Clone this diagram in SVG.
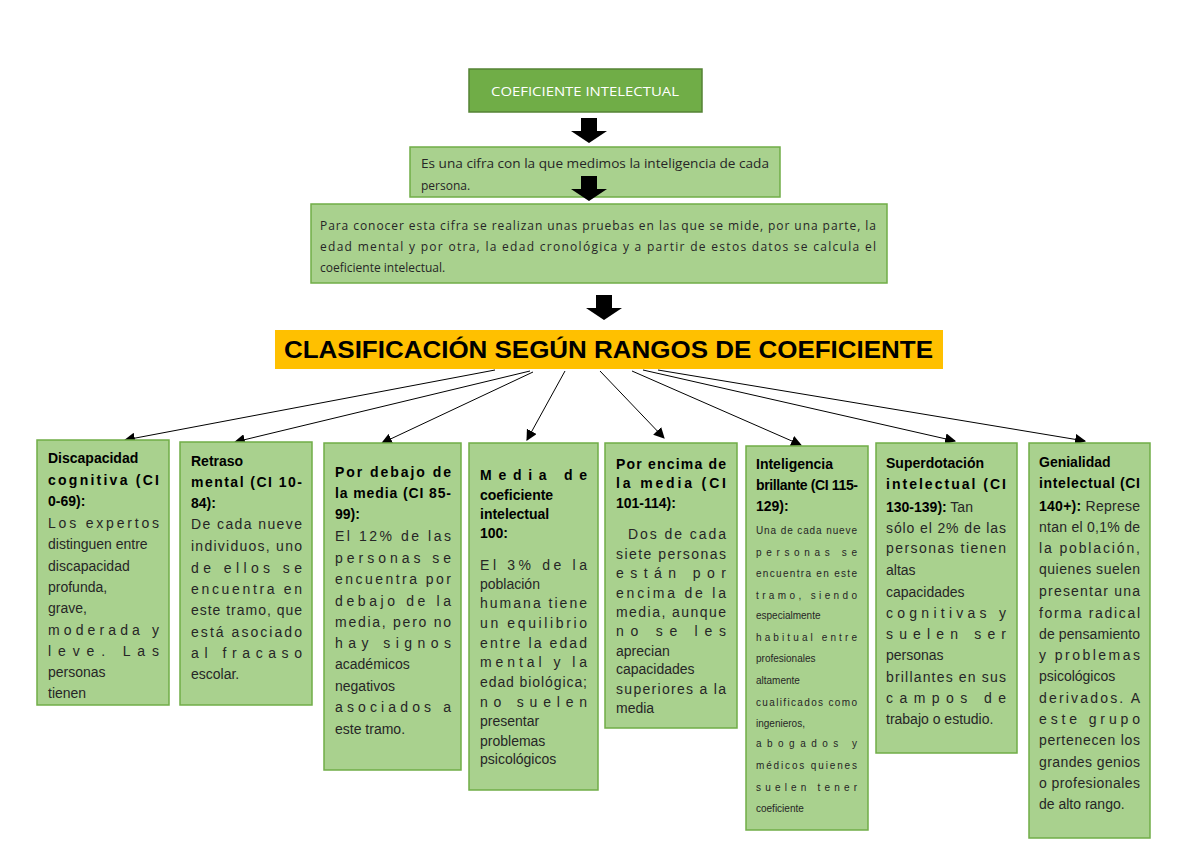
<svg xmlns="http://www.w3.org/2000/svg" width="1200" height="848" viewBox="0 0 1200 848">
<style>
.box{fill:#a9d18e;stroke:#70ad47;stroke-width:1.5}
.t{font-family:"Liberation Sans",Arial,sans-serif;font-size:14px;fill:#262626}
.b{font-weight:bold;fill:#000}
.s{font-size:10px}
.c{font-family:"Open Sans","Liberation Sans",sans-serif;font-size:12px;fill:#262626}
.ln{stroke:#000;stroke-width:1;fill:none;marker-end:url(#ah)}
.blk{fill:#000}
</style>
<defs>
<marker id="ah" viewBox="0 0 10 10" refX="9" refY="5" markerWidth="11" markerHeight="11" markerUnits="userSpaceOnUse" orient="auto"><path d="M0,0 L10,5 L0,10 z" fill="#000"/></marker>
</defs>
<rect width="1200" height="848" fill="#fff"/>

<g id="n-title">
<rect x="469" y="69" width="233" height="43" fill="#70ad47" stroke="#548235" stroke-width="1.5"/>
<text x="585" y="96" text-anchor="middle" font-family="'Open Sans','Liberation Sans',sans-serif" font-size="13" fill="#fff" textLength="188" lengthAdjust="spacingAndGlyphs">COEFICIENTE INTELECTUAL</text>
</g>
<g id="n-def">
<rect class="box" x="410" y="147" width="370" height="50"/>
<text class="c" x="421" y="168" textLength="348" lengthAdjust="spacingAndGlyphs">Es una cifra con la que medimos la inteligencia de cada</text>
<text class="c" x="421" y="190">persona.</text>
</g>
<g id="n-pruebas">
<rect class="box" x="311" y="204" width="576" height="79"/>
<text class="c" x="320" y="230" textLength="556" lengthAdjust="spacing">Para conocer esta cifra se realizan unas pruebas en las que se mide, por una parte, la</text>
<text class="c" x="320" y="251" textLength="556" lengthAdjust="spacing">edad mental y por otra, la edad cronológica y a partir de estos datos se calcula el</text>
<text class="c" x="320" y="272">coeficiente intelectual.</text>
</g>
<g id="n-banner">
<rect x="275" y="330" width="668" height="39" fill="#ffc000"/>
<text x="284" y="358" font-family="'Liberation Sans',Arial,sans-serif" font-weight="bold" font-size="24" fill="#000" textLength="649" lengthAdjust="spacingAndGlyphs">CLASIFICACIÓN SEGÚN RANGOS DE COEFICIENTE</text>
</g>

<g id="block-arrows">
<path class="blk" d="M581,118 H597 V131 H607 L589,143 L571,131 H581 Z"/>
<path class="blk" d="M581,176 H597 V189 H607 L589,201 L571,189 H581 Z"/>
<path class="blk" d="M596,295 H612 V308 H622 L604,320 L586,308 H596 Z"/>
</g>

<g id="connectors">
<line class="ln" x1="495" y1="370" x2="125" y2="440"/>
<line class="ln" x1="530" y1="371" x2="235" y2="442"/>
<line class="ln" x1="533" y1="372" x2="382" y2="443"/>
<line class="ln" x1="565" y1="371" x2="527" y2="440"/>
<line class="ln" x1="600" y1="371" x2="664" y2="438"/>
<line class="ln" x1="632" y1="371" x2="801" y2="445"/>
<line class="ln" x1="643" y1="370" x2="955" y2="441"/>
<line class="ln" x1="658" y1="370" x2="1085" y2="441"/>
</g>

<g id="n-discapacidad">
<rect class="box" x="37" y="440" width="132" height="265"/>
<text class="t b" x="48" y="463">Discapacidad</text>
<text class="t b" x="48" y="485" textLength="111" lengthAdjust="spacing">cognitiva (CI</text>
<text class="t b" x="48" y="506">0-69):</text>
<text class="t" x="48" y="528" textLength="111" lengthAdjust="spacing">Los expertos</text>
<text class="t" x="48" y="549">distinguen entre</text>
<text class="t" x="48" y="571">discapacidad</text>
<text class="t" x="48" y="592">profunda,</text>
<text class="t" x="48" y="613">grave,</text>
<text class="t" x="48" y="635" textLength="111" lengthAdjust="spacing">moderada y</text>
<text class="t" x="48" y="656" textLength="111" lengthAdjust="spacing">leve. Las</text>
<text class="t" x="48" y="677">personas</text>
<text class="t" x="48" y="698">tienen</text>
</g>
<g id="n-retraso">
<rect class="box" x="180" y="442" width="132" height="263"/>
<text class="t b" x="191" y="466">Retraso</text>
<text class="t b" x="191" y="487" textLength="111" lengthAdjust="spacing">mental (CI 10-</text>
<text class="t b" x="191" y="508">84):</text>
<text class="t" x="191" y="529" textLength="111" lengthAdjust="spacing">De cada nueve</text>
<text class="t" x="191" y="551" textLength="111" lengthAdjust="spacing">individuos, uno</text>
<text class="t" x="191" y="573" textLength="111" lengthAdjust="spacing">de ellos se</text>
<text class="t" x="191" y="594" textLength="111" lengthAdjust="spacing">encuentra en</text>
<text class="t" x="191" y="615" textLength="111" lengthAdjust="spacing">este tramo, que</text>
<text class="t" x="191" y="637" textLength="111" lengthAdjust="spacing">está asociado</text>
<text class="t" x="191" y="658" textLength="111" lengthAdjust="spacing">al fracaso</text>
<text class="t" x="191" y="679">escolar.</text>
</g>
<g id="n-debajo">
<rect class="box" x="324" y="443" width="137" height="327"/>
<text class="t b" x="335" y="477" textLength="116" lengthAdjust="spacing">Por debajo de</text>
<text class="t b" x="335" y="498" textLength="116" lengthAdjust="spacing">la media (CI 85-</text>
<text class="t b" x="335" y="519">99):</text>
<text class="t" x="335" y="541" textLength="116" lengthAdjust="spacing">El 12% de las</text>
<text class="t" x="335" y="563" textLength="116" lengthAdjust="spacing">personas se</text>
<text class="t" x="335" y="584" textLength="116" lengthAdjust="spacing">encuentra por</text>
<text class="t" x="335" y="606" textLength="116" lengthAdjust="spacing">debajo de la</text>
<text class="t" x="335" y="627" textLength="116" lengthAdjust="spacing">media, pero no</text>
<text class="t" x="335" y="648" textLength="116" lengthAdjust="spacing">hay signos</text>
<text class="t" x="335" y="669">académicos</text>
<text class="t" x="335" y="691">negativos</text>
<text class="t" x="335" y="712" textLength="116" lengthAdjust="spacing">asociados a</text>
<text class="t" x="335" y="734">este tramo.</text>
</g>
<g id="n-media">
<rect class="box" x="469" y="443" width="129" height="347"/>
<text class="t b" x="480" y="480" textLength="107" lengthAdjust="spacing">Media de</text>
<text class="t b" x="480" y="500">coeficiente</text>
<text class="t b" x="480" y="519">intelectual</text>
<text class="t b" x="480" y="538">100:</text>
<text class="t" x="480" y="570" textLength="107" lengthAdjust="spacing">El 3% de la</text>
<text class="t" x="480" y="589">población</text>
<text class="t" x="480" y="608" textLength="107" lengthAdjust="spacing">humana tiene</text>
<text class="t" x="480" y="628" textLength="107" lengthAdjust="spacing">un equilibrio</text>
<text class="t" x="480" y="648" textLength="107" lengthAdjust="spacing">entre la edad</text>
<text class="t" x="480" y="667" textLength="107" lengthAdjust="spacing">mental y la</text>
<text class="t" x="480" y="687" textLength="107" lengthAdjust="spacing">edad biológica;</text>
<text class="t" x="480" y="707" textLength="107" lengthAdjust="spacing">no suelen</text>
<text class="t" x="480" y="726">presentar</text>
<text class="t" x="480" y="746">problemas</text>
<text class="t" x="480" y="764">psicológicos</text>
</g>
<g id="n-encima">
<rect class="box" x="605" y="443" width="132" height="285"/>
<text class="t b" x="616" y="469" textLength="110" lengthAdjust="spacing">Por encima de</text>
<text class="t b" x="616" y="488" textLength="110" lengthAdjust="spacing">la media (CI</text>
<text class="t b" x="616" y="508">101-114):</text>
<text class="t" x="628" y="539" textLength="98" lengthAdjust="spacing">Dos de cada</text>
<text class="t" x="616" y="559" textLength="110" lengthAdjust="spacing">siete personas</text>
<text class="t" x="616" y="578" textLength="110" lengthAdjust="spacing">están por</text>
<text class="t" x="616" y="598" textLength="110" lengthAdjust="spacing">encima de la</text>
<text class="t" x="616" y="617" textLength="110" lengthAdjust="spacing">media, aunque</text>
<text class="t" x="616" y="636" textLength="110" lengthAdjust="spacing">no se les</text>
<text class="t" x="616" y="656">aprecian</text>
<text class="t" x="616" y="674">capacidades</text>
<text class="t" x="616" y="694" textLength="110" lengthAdjust="spacing">superiores a la</text>
<text class="t" x="616" y="713">media</text>
</g>
<g id="n-brillante">
<rect class="box" x="746" y="446" width="122" height="384"/>
<text class="t b" x="756" y="469" font-size="12">Inteligencia</text>
<text class="t b" x="756" y="490" font-size="12" textLength="102" lengthAdjust="spacing">brillante (CI 115-</text>
<text class="t b" x="756" y="511" font-size="12">129):</text>
<text class="t s" x="756" y="534" textLength="101" lengthAdjust="spacing">Una de cada nueve</text>
<text class="t s" x="756" y="556" textLength="101" lengthAdjust="spacing">personas se</text>
<text class="t s" x="756" y="577" textLength="101" lengthAdjust="spacing">encuentra en este</text>
<text class="t s" x="756" y="599" textLength="101" lengthAdjust="spacing">tramo, siendo</text>
<text class="t s" x="756" y="619">especialmente</text>
<text class="t s" x="756" y="641" textLength="101" lengthAdjust="spacing">habitual entre</text>
<text class="t s" x="756" y="662">profesionales</text>
<text class="t s" x="756" y="684">altamente</text>
<text class="t s" x="756" y="706" textLength="101" lengthAdjust="spacing">cualificados como</text>
<text class="t s" x="756" y="727">ingenieros,</text>
<text class="t s" x="756" y="747" textLength="101" lengthAdjust="spacing">abogados y</text>
<text class="t s" x="756" y="769" textLength="101" lengthAdjust="spacing">médicos quienes</text>
<text class="t s" x="756" y="791" textLength="101" lengthAdjust="spacing">suelen tener</text>
<text class="t s" x="756" y="812">coeficiente</text>
</g>
<g id="n-superdotacion">
<rect class="box" x="876" y="443" width="141" height="310"/>
<text class="t b" x="886" y="468">Superdotación</text>
<text class="t b" x="886" y="489" textLength="120" lengthAdjust="spacing">intelectual (CI</text>
<text class="t" x="886" y="512"><tspan class="b">130-139):</tspan> Tan</text>
<text class="t" x="886" y="533" textLength="120" lengthAdjust="spacing">sólo el 2% de las</text>
<text class="t" x="886" y="553" textLength="120" lengthAdjust="spacing">personas tienen</text>
<text class="t" x="886" y="575">altas</text>
<text class="t" x="886" y="597">capacidades</text>
<text class="t" x="886" y="618" textLength="120" lengthAdjust="spacing">cognitivas y</text>
<text class="t" x="886" y="639" textLength="120" lengthAdjust="spacing">suelen ser</text>
<text class="t" x="886" y="660">personas</text>
<text class="t" x="886" y="682" textLength="120" lengthAdjust="spacing">brillantes en sus</text>
<text class="t" x="886" y="703" textLength="120" lengthAdjust="spacing">campos de</text>
<text class="t" x="886" y="724">trabajo o estudio.</text>
</g>
<g id="n-genialidad">
<rect class="box" x="1029" y="443" width="121" height="395"/>
<text class="t b" x="1039" y="467" font-size="13">Genialidad</text>
<text class="t b" x="1039" y="488" font-size="13" textLength="101" lengthAdjust="spacing">intelectual (CI</text>
<text class="t" x="1039" y="511" font-size="13" textLength="101" lengthAdjust="spacing"><tspan class="b">140+):</tspan> Represe</text>
<text class="t" x="1039" y="532" font-size="13" textLength="101" lengthAdjust="spacing">ntan el 0,1% de</text>
<text class="t" x="1039" y="553" font-size="13" textLength="101" lengthAdjust="spacing">la población,</text>
<text class="t" x="1039" y="574" font-size="13" textLength="101" lengthAdjust="spacing">quienes suelen</text>
<text class="t" x="1039" y="596" font-size="13" textLength="101" lengthAdjust="spacing">presentar una</text>
<text class="t" x="1039" y="618" font-size="13" textLength="101" lengthAdjust="spacing">forma radical</text>
<text class="t" x="1039" y="639" font-size="13" textLength="101" lengthAdjust="spacing">de pensamiento</text>
<text class="t" x="1039" y="660" font-size="13" textLength="101" lengthAdjust="spacing">y problemas</text>
<text class="t" x="1039" y="681" font-size="13">psicológicos</text>
<text class="t" x="1039" y="703" font-size="13" textLength="101" lengthAdjust="spacing">derivados. A</text>
<text class="t" x="1039" y="724" font-size="13" textLength="101" lengthAdjust="spacing">este grupo</text>
<text class="t" x="1039" y="745" font-size="13" textLength="101" lengthAdjust="spacing">pertenecen los</text>
<text class="t" x="1039" y="767" font-size="13" textLength="101" lengthAdjust="spacing">grandes genios</text>
<text class="t" x="1039" y="788" font-size="13" textLength="101" lengthAdjust="spacing">o profesionales</text>
<text class="t" x="1039" y="809" font-size="13">de alto rango.</text>
</g>
</svg>
